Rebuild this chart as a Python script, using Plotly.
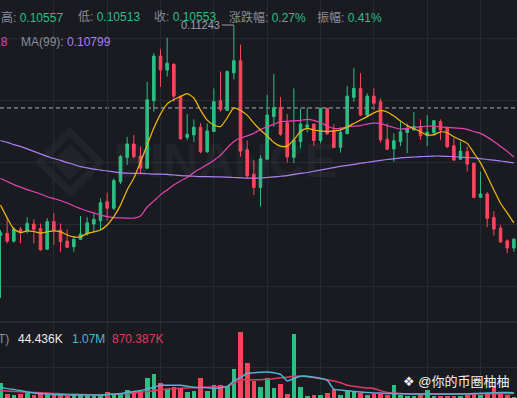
import plotly.graph_objects as go

# ---------------- data ----------------
open_ = [0.10565,0.10572,0.10547,0.10585,0.10580,0.10602,0.10588,0.10521,0.10610,0.10583,
         0.10547,0.10529,0.10553,0.10570,0.10602,0.10613,0.10674,0.10653,0.10738,0.10817,
         0.10860,0.10821,0.10782,0.10999,0.11143,0.11098,0.11117,0.11014,0.10881,0.10889,
         0.10914,0.10835,0.10900,0.10999,0.10968,0.11089,0.11128,0.10841,0.10763,0.10720,
         0.10811,0.10948,0.10977,0.10928,0.10817,0.10868,0.10914,0.10924,0.10871,0.10975,
         0.10903,0.10849,0.10893,0.11010,0.11039,0.10953,0.11014,0.10996,0.10875,0.10844,
         0.10868,0.10897,0.10905,0.10916,0.10886,0.10897,0.10932,0.10914,0.10854,0.10811,
         0.10835,0.10798,0.10688,0.10699,0.10623,0.10589,0.10548,0.10525]
high = [0.10583,0.10621,0.10593,0.10593,0.10624,0.10617,0.10604,0.10621,0.10637,0.10604,
        0.10585,0.10564,0.10628,0.10624,0.10637,0.10685,0.10703,0.10749,0.10824,0.10883,
        0.10889,0.10851,0.11060,0.11152,0.11165,0.11202,0.11118,0.11015,0.10956,0.10939,
        0.10927,0.10926,0.11039,0.11093,0.11097,0.11243,0.11180,0.10871,0.10808,0.10823,
        0.11018,0.11085,0.11011,0.10956,0.11039,0.10975,0.10977,0.10925,0.10976,0.10976,
        0.10924,0.10914,0.11047,0.11104,0.11088,0.11023,0.11039,0.11007,0.10926,0.10894,
        0.10932,0.10926,0.10962,0.10939,0.10953,0.10937,0.10939,0.10915,0.10879,0.10868,
        0.10851,0.10799,0.10771,0.10705,0.10644,0.10599,0.10553,0.10557]
low = [0.10364,0.10540,0.10542,0.10540,0.10572,0.10540,0.10516,0.10519,0.10535,0.10513,
       0.10525,0.10513,0.10551,0.10564,0.10577,0.10583,0.10613,0.10647,0.10731,0.10792,
       0.10814,0.10763,0.10780,0.10964,0.11044,0.11077,0.10996,0.10873,0.10872,0.10866,
       0.10830,0.10831,0.10899,0.10964,0.10967,0.11068,0.10819,0.10750,0.10696,0.10659,
       0.10808,0.10915,0.10886,0.10800,0.10798,0.10846,0.10897,0.10853,0.10862,0.10889,
       0.10846,0.10832,0.10891,0.10996,0.10950,0.10948,0.10969,0.10864,0.10841,0.10803,
       0.10853,0.10830,0.10903,0.10873,0.10853,0.10886,0.10873,0.10846,0.10806,0.10808,
       0.10771,0.10685,0.10687,0.10592,0.10565,0.10543,0.10508,0.10513]
close = [0.10574,0.10547,0.10586,0.10574,0.10604,0.10585,0.10519,0.10610,0.10581,0.10545,
         0.10527,0.10553,0.10570,0.10606,0.10617,0.10671,0.10653,0.10742,0.10819,0.10860,
         0.10819,0.10782,0.11002,0.11143,0.11098,0.11120,0.11014,0.10877,0.10891,0.10914,
         0.10835,0.10902,0.10996,0.10970,0.11093,0.11128,0.10837,0.10757,0.10720,0.10812,
         0.10953,0.10977,0.10891,0.10818,0.10873,0.10924,0.10921,0.10871,0.10975,0.10893,
         0.10849,0.10897,0.11014,0.11039,0.10953,0.11014,0.10991,0.10873,0.10843,0.10870,
         0.10899,0.10910,0.10916,0.10886,0.10898,0.10935,0.10905,0.10851,0.10808,0.10837,
         0.10795,0.10688,0.10699,0.10620,0.10586,0.10544,0.10525,0.10553]
ma7 = [0.10663,0.10622,0.10586,0.10575,0.10580,0.10578,0.10573,0.10577,0.10580,0.10577,
       0.10567,0.10561,0.10561,0.10572,0.10577,0.10583,0.10599,0.10626,0.10663,0.10712,
       0.10750,0.10802,0.10857,0.10911,0.10956,0.10989,0.11003,0.11013,0.11022,0.11008,
       0.10969,0.10937,0.10921,0.10916,0.10944,0.10976,0.10968,0.10953,0.10927,0.10905,
       0.10886,0.10865,0.10853,0.10853,0.10873,0.10900,0.10910,0.10905,0.10902,0.10900,
       0.10902,0.10905,0.10915,0.10926,0.10937,0.10948,0.10960,0.10967,0.10963,0.10950,
       0.10934,0.10919,0.10910,0.10899,0.10889,0.10890,0.10899,0.10896,0.10883,0.10873,
       0.10862,0.10831,0.10799,0.10757,0.10712,0.10669,0.10638,0.10606]
ma25 = [0.10749,0.10739,0.10729,0.10721,0.10713,0.10706,0.10699,0.10690,0.10684,0.10678,
        0.10670,0.10660,0.10652,0.10644,0.10638,0.10631,0.10626,0.10623,0.10622,0.10621,
        0.10621,0.10628,0.10657,0.10676,0.10696,0.10712,0.10728,0.10741,0.10752,0.10768,
        0.10781,0.10794,0.10807,0.10824,0.10847,0.10868,0.10879,0.10886,0.10894,0.10907,
        0.10915,0.10923,0.10932,0.10933,0.10934,0.10936,0.10939,0.10936,0.10929,0.10918,
        0.10910,0.10910,0.10915,0.10917,0.10919,0.10924,0.10927,0.10926,0.10919,0.10913,
        0.10908,0.10910,0.10913,0.10916,0.10917,0.10917,0.10915,0.10913,0.10912,0.10910,
        0.10907,0.10900,0.10894,0.10882,0.10868,0.10852,0.10836,0.10818]
ma99 = [0.10871,0.10865,0.10858,0.10852,0.10844,0.10836,0.10828,0.10820,0.10813,0.10807,
        0.10800,0.10794,0.10787,0.10783,0.10779,0.10776,0.10773,0.10770,0.10767,0.10766,
        0.10765,0.10765,0.10764,0.10763,0.10763,0.10762,0.10760,0.10758,0.10757,0.10756,
        0.10755,0.10755,0.10754,0.10754,0.10753,0.10752,0.10751,0.10750,0.10750,0.10750,
        0.10752,0.10754,0.10756,0.10758,0.10762,0.10765,0.10768,0.10772,0.10776,0.10780,
        0.10784,0.10788,0.10791,0.10794,0.10798,0.10801,0.10804,0.10807,0.10810,0.10812,
        0.10815,0.10817,0.10818,0.10819,0.10820,0.10821,0.10821,0.10820,0.10819,0.10818,
        0.10816,0.10815,0.10813,0.10810,0.10808,0.10805,0.10802,0.10799]
volume = [3.19,0.77,0.55,0.77,0.99,0.55,0.99,0.99,0.99,0.55,
          0.44,0.55,0.55,0.44,0.44,0.66,1.28,0.77,0.77,1.72,
          1.50,1.50,4.44,5.17,3.19,1.87,2.24,1.87,1.28,1.50,
          4.44,1.50,2.75,2.75,2.46,6.42,14.7,7.74,3.63,2.30,
          4.29,2.09,2.97,0.77,14.2,2.24,0.40,0.55,0.55,0.99,
          1.87,0.55,1.50,1.50,0.99,0.55,0.77,0.77,0.55,2.75,
          0.55,0.44,0.44,0.55,1.72,0.44,0.44,0.33,0.44,0.33,
          0.55,0.77,0.66,1.06,2.60,0.77,0.55,0.044436]
vol_ma5 = [2.24,1.98,1.76,1.54,1.21,0.99,0.88,0.77,0.66,0.62,
           0.55,0.55,0.55,0.55,0.55,0.55,0.66,0.77,0.88,1.14,
           1.32,1.54,1.87,2.31,2.75,2.75,2.75,2.75,2.53,2.31,
           2.24,2.20,2.02,2.20,2.46,3.70,4.44,5.39,5.50,5.61,
           5.68,5.50,5.17,3.70,4.22,4.73,4.73,4.51,4.29,3.85,
           1.87,1.65,1.50,1.36,1.21,1.10,1.03,0.99,0.92,0.88,
           0.84,0.81,0.77,0.77,0.77,0.77,0.77,0.77,0.77,0.77,
           0.81,0.88,0.95,0.99,1.06,1.10,1.12,1.07]
vol_ma10 = [1.50,1.43,1.36,1.28,1.21,1.14,1.06,0.99,0.92,0.84,
            0.77,0.73,0.68,0.64,0.59,0.55,0.64,0.73,0.81,0.90,
            0.99,1.17,1.34,1.52,1.69,1.87,1.96,2.05,2.13,2.20,
            2.24,2.31,2.35,2.42,2.46,3.19,3.92,3.96,3.96,3.96,
            4.07,4.18,4.40,4.51,4.80,4.73,4.62,4.44,4.18,3.96,
            3.70,3.30,2.75,2.53,2.31,2.13,2.02,1.54,1.14,0.99,
            0.88,0.80,0.78,0.77,0.77,0.77,0.77,0.77,0.78,0.79,
            0.80,0.80,0.82,0.83,0.85,0.86,0.87,0.87]
price_line = 0.10976
price_grid = [0.104, 0.106, 0.108, 0.110, 0.112]
time_grid = [0, 8, 16, 24, 32, 40, 48, 56, 64, 72]
vol_grid = [6.6]

header1 = [("高: ", "0.10557"), ("低: ", "0.10513"), ("收: ", "0.10553"),
           ("涨跌幅: ", "0.27%"), ("振幅: ", "0.41%")]
header1_x = [-1, 76, 152, 227, 315]
ma25_label = "MA(25): 0.10818"
ma99_label, ma99_value = "MA(99): ", "0.10799"
vol_labels = ["Vol(USDT)", "44.436K", "1.07M", "870.387K"]
watermark = "@你的币圈柚柚"

# ---------------- styling ----------------
W, H = 517, 398
BG = "#1a1b20"
GRID = "#272a31"
GREEN = "#2ebd85"
RED = "#f6465d"
GRAY = "#848e9c"
C_MA7, C_MA25, C_MA99 = "#f0b90b", "#e544b4", "#a97ff2"
C_V5, C_V10 = "#4fb5d2", "#e23a64"
FONT = "Liberation Sans, Noto Sans CJK SC, sans-serif"

vol_px = 76  # height of the volume pane in px
vol_dom = vol_px / H

idx = list(range(len(close)))
bar_colors = [GREEN if c >= o else RED for o, c in zip(open_, close)]

fig = go.Figure()
fig.add_trace(go.Candlestick(
    x=idx, open=open_, high=high, low=low, close=close,
    increasing=dict(line=dict(color=GREEN, width=1), fillcolor=GREEN),
    decreasing=dict(line=dict(color=RED, width=1), fillcolor=RED),
    whiskerwidth=0, xaxis="x", yaxis="y", showlegend=False, hoverinfo="skip"))
for vals, col in [(ma99, C_MA99), (ma25, C_MA25), (ma7, C_MA7)]:
    fig.add_trace(go.Scatter(x=idx, y=vals, mode="lines",
                             line=dict(color=col, width=1.2, shape="spline", smoothing=0.6),
                             xaxis="x", yaxis="y", showlegend=False, hoverinfo="skip"))
fig.add_trace(go.Bar(x=idx, y=volume, marker=dict(color=bar_colors, line=dict(width=0)),
                     width=0.7, xaxis="x2", yaxis="y2", showlegend=False, hoverinfo="skip"))
for vals, col in [(vol_ma10, C_V10), (vol_ma5, C_V5)]:
    fig.add_trace(go.Scatter(x=idx, y=vals, mode="lines",
                             line=dict(color=col, width=1.5, shape="spline", smoothing=0.6),
                             xaxis="x2", yaxis="y2", showlegend=False, hoverinfo="skip"))

xr = [-0.075, 77.47]
axis_common = dict(showticklabels=False, zeroline=False, showline=False,
                   gridcolor=GRID, gridwidth=1, ticks="")
fig.update_layout(
    width=W, height=H, margin=dict(l=0, r=0, t=0, b=0),
    paper_bgcolor=BG, plot_bgcolor=BG, boxgap=0.45, bargap=0,
    xaxis=dict(domain=[0, 1], range=xr, tickvals=time_grid, anchor="y",
               rangeslider=dict(visible=False), **axis_common),
    xaxis2=dict(domain=[0, 1], range=xr, tickvals=time_grid, anchor="y2",
                matches="x", **axis_common),
    yaxis=dict(domain=[vol_dom, 1], range=[0.102867, 0.113235], tickvals=price_grid,
               anchor="x", **axis_common),
    yaxis2=dict(domain=[0, vol_dom], range=[-0.11, 16.83], tickvals=vol_grid,
                anchor="x2", **axis_common),
    showlegend=False, hovermode=False,
)

# separator between panes and last-price dashed line
fig.add_shape(type="line", xref="paper", yref="paper", x0=0, x1=1, y0=vol_dom, y1=vol_dom,
              line=dict(color="#2d3139", width=1.5), layer="below")
fig.add_shape(type="line", xref="paper", yref="y", x0=0, x1=1, y0=price_line, y1=price_line,
              line=dict(color="#6a6e75", width=1.6, dash="4px,3px"), layer="below")

# faint BINANCE watermark
def px(x, y):
    return x / W, 1 - y / H
cx, cy, r = 70, 162, 30
pts = [px(cx, cy - r), px(cx + r, cy), px(cx, cy + r), px(cx - r, cy)]
outer = "M " + " L ".join(f"{a:.4f},{b:.4f}" for a, b in pts) + " Z"
r2 = 18
pts2 = [px(cx, cy - r2), px(cx + r2, cy), px(cx, cy + r2), px(cx - r2, cy)]
inner = "M " + " L ".join(f"{a:.4f},{b:.4f}" for a, b in pts2) + " Z"
fig.add_shape(type="path", xref="paper", yref="paper", path=outer,
              line=dict(color="rgba(255,255,255,0.045)", width=7), layer="below")
fig.add_shape(type="path", xref="paper", yref="paper", path=inner,
              fillcolor="rgba(255,255,255,0.04)", line=dict(width=0), layer="below")
fig.add_annotation(xref="paper", yref="paper", x=225.5 / W, y=1 - 160 / H,
                   text="<b>BINANCE</b>", showarrow=False,
                   font=dict(family="Liberation Sans", size=49, color="rgba(255,255,255,0.04)"))

# header line 1
for (lab, val), x0 in zip(header1, header1_x):
    fig.add_annotation(xref="paper", yref="paper", x=x0 / W, y=1 - 17 / H,
                       xanchor="left", yanchor="middle", showarrow=False,
                       text=f"<span style='color:{GRAY}'>{lab}</span>"
                            f"<span style='color:{GREEN}'>{val}</span>",
                       font=dict(family=FONT, size=12))
# header line 2
fig.add_annotation(xref="paper", yref="paper", x=10 / W, y=1 - 42 / H, xanchor="right",
                   yanchor="middle", showarrow=False, text=ma25_label,
                   font=dict(family=FONT, size=12, color=C_MA25))
fig.add_annotation(xref="paper", yref="paper", x=19 / W, y=1 - 42 / H, xanchor="left",
                   yanchor="middle", showarrow=False,
                   text=f"<span style='color:{GRAY}'>{ma99_label}</span>"
                        f"<span style='color:{C_MA99}'>{ma99_value}</span>",
                   font=dict(family=FONT, size=12))
# volume labels
fig.add_annotation(xref="paper", yref="paper", x=10.5 / W, y=1 - 339 / H, xanchor="right",
                   yanchor="middle", showarrow=False, text=vol_labels[0],
                   font=dict(family=FONT, size=12, color=GRAY))
for txt, x0, col in zip(vol_labels[1:], [16, 70, 110], ["#eaecef", C_V5, C_V10]):
    fig.add_annotation(xref="paper", yref="paper", x=x0 / W, y=1 - 339 / H, xanchor="left",
                       yanchor="middle", showarrow=False, text=txt,
                       font=dict(family=FONT, size=12, color=col))

# max-high marker
imax = max(idx, key=lambda i: high[i])
fig.add_annotation(x=imax, y=high[imax], xref="x", yref="y", text=f"{high[imax]:.5f}",
                   showarrow=True, arrowhead=0, arrowwidth=1, arrowcolor="#9a9fa6",
                   ax=-12, ay=0, xanchor="right", yanchor="middle", standoff=0,
                   font=dict(family=FONT, size=11, color="#9a9fa6"))

# bottom-right watermark
fig.add_annotation(xref="paper", yref="paper", x=511 / W, y=1 - 381 / H, xanchor="right",
                   yanchor="middle", showarrow=False,
                   text="<span style='font-family:DejaVu Sans'>❖</span> " + watermark,
                   font=dict(family=FONT, size=13, color="#f2f2f2"))

fig.write_html("out.html", config={"displayModeBar": False, "staticPlot": True},
               post_script="document.body.style.margin='0';"
                           "document.body.style.overflow='hidden';"
                           "document.body.style.background='" + BG + "';")
